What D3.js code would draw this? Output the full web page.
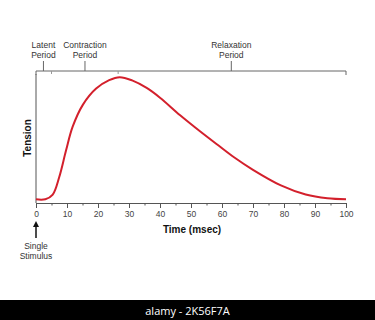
<!DOCTYPE html>
<html>
<head>
<meta charset="utf-8">
<script src="https://cdn.jsdelivr.net/npm/d3@7"></script>
<style>
  body { margin: 0; background: #fff; }
  svg { display: block; font-family: "Liberation Sans", Arial, sans-serif; }
</style>
</head>
<body>
<svg id="chart" width="375" height="320"></svg>
<script>
// twitch curve (time in msec, tension in relative units)
const times    = [0, 3, 5.4, 7.5, 9.7, 11.8, 15.1, 19.4, 23.6, 27, 31, 35.7, 40, 46.5, 53, 59, 64, 70, 79, 87, 94, 100];
const tensions = [2.8, 2.9, 6.5, 20, 40.5, 58.5, 75.5, 88, 94.5, 96.8, 94.3, 88.5, 81, 67.5, 55, 44, 35, 25.5, 13.5, 6.5, 3.6, 2.8];

const majorTicks = [0, 10, 20, 30, 40, 50, 60, 70, 80, 90, 100];
const minorTicks = [5, 15, 25, 35, 45, 55, 65, 75, 85, 95];

const periodNames = [["Latent", "Period"], ["Contraction", "Period"], ["Relaxation", "Period"]];
const periodLabelAt = [2.4, 15.8, 63];
const periodBounds = [5, 26.5];

const svg = d3.select("#chart");
const x = d3.scaleLinear().domain([0, 100]).range([36, 346]);
const y = d3.scaleLinear().domain([0, 100]).range([203, 73]);

const data = times.map((t, i) => ({ t: t, v: tensions[i] }));

// y axis: plain line
svg.append("line")
    .attr("x1", x(0)).attr("x2", x(0))
    .attr("y1", 74).attr("y2", y(0))
    .attr("stroke", "#555").attr("stroke-width", 1);

// x axis, major + minor ticks
const xAxis = svg.append("g")
    .attr("transform", `translate(0,${y(0)})`)
    .call(d3.axisBottom(x).tickValues(majorTicks).tickSize(5).tickPadding(3).tickSizeOuter(0));
xAxis.select(".domain").attr("stroke", "#555");
xAxis.selectAll(".tick line").attr("stroke", "#555");
xAxis.selectAll("text").attr("fill", "#444").style("font-size", "8.5px");

svg.append("g")
    .attr("transform", `translate(0,${y(0)})`)
    .call(d3.axisBottom(x).tickValues(minorTicks).tickSize(2.5).tickFormat("").tickSizeOuter(0))
    .call(g => g.select(".domain").remove())
    .selectAll(".tick line").attr("stroke", "#555");

// curve
svg.append("path")
    .datum(data)
    .attr("fill", "none")
    .attr("stroke", "#d3202c")
    .attr("stroke-width", 2)
    .attr("d", d3.line().x(d => x(d.t)).y(d => y(d.v)).curve(d3.curveCatmullRom.alpha(0.5)));

// axis titles
svg.append("text")
    .attr("x", 192).attr("y", 233)
    .attr("text-anchor", "middle")
    .style("font-size", "10px").style("font-weight", "bold")
    .attr("fill", "#111")
    .text("Time (msec)");

svg.append("text")
    .attr("transform", `translate(31,${138}) rotate(-90)`)
    .attr("text-anchor", "middle")
    .style("font-size", "10px").style("font-weight", "bold")
    .attr("fill", "#111")
    .text("Tension");

// period bracket on top
const bracketY = 71;
svg.append("line")
    .attr("x1", x(0)).attr("x2", x(100))
    .attr("y1", bracketY).attr("y2", bracketY)
    .attr("stroke", "#666");
[0, 100].forEach(t => {
  svg.append("line")
      .attr("x1", x(t)).attr("x2", x(t))
      .attr("y1", bracketY).attr("y2", bracketY + 4)
      .attr("stroke", "#666");
});
periodBounds.forEach(t => {
  svg.append("line")
      .attr("x1", x(t)).attr("x2", x(t))
      .attr("y1", bracketY).attr("y2", bracketY + 3)
      .attr("stroke", "#999");
});

const labels = svg.selectAll(".period")
    .data(periodNames)
    .enter().append("g")
    .attr("class", "period");
labels.append("line")
    .attr("x1", (d, i) => x(periodLabelAt[i])).attr("x2", (d, i) => x(periodLabelAt[i]))
    .attr("y1", 61).attr("y2", bracketY)
    .attr("stroke", "#666");
labels.append("text")
    .attr("x", (d, i) => x(periodLabelAt[i]))
    .attr("y", 48)
    .attr("text-anchor", "middle")
    .attr("fill", "#333")
    .style("font-size", "8.5px")
    .selectAll("tspan")
    .data(d => d)
    .enter().append("tspan")
    .attr("x", function () { return this.parentNode.getAttribute("x"); })
    .attr("dy", (d, i) => i === 0 ? 0 : 10)
    .text(d => d);

// stimulus arrow
svg.append("defs").append("marker")
    .attr("id", "head")
    .attr("viewBox", "0 0 10 10")
    .attr("refX", 5).attr("refY", 5)
    .attr("markerWidth", 4).attr("markerHeight", 4)
    .attr("orient", "auto")
    .append("path").attr("d", "M0,0L10,5L0,10z").attr("fill", "#111");

svg.append("line")
    .attr("x1", x(0)).attr("x2", x(0))
    .attr("y1", 238).attr("y2", 224)
    .attr("stroke", "#111").attr("stroke-width", 1.5)
    .attr("marker-end", "url(#head)");

svg.append("text")
    .attr("x", x(0)).attr("y", 249)
    .attr("text-anchor", "middle")
    .attr("fill", "#333")
    .style("font-size", "8.5px")
    .selectAll("tspan")
    .data(["Single", "Stimulus"])
    .enter().append("tspan")
    .attr("x", x(0))
    .attr("dy", (d, i) => i === 0 ? 0 : 10)
    .text(d => d);

// bottom banner
svg.append("rect")
    .attr("x", 0).attr("y", 300).attr("width", 375).attr("height", 20)
    .attr("fill", "#000");
svg.append("text")
    .attr("x", 187.5).attr("y", 314.5)
    .attr("text-anchor", "middle")
    .attr("fill", "#fff")
    .style("font-family", "'Open Sans', sans-serif")
    .style("font-size", "11px")
    .text("alamy - 2K56F7A");
</script>
</body>
</html>
